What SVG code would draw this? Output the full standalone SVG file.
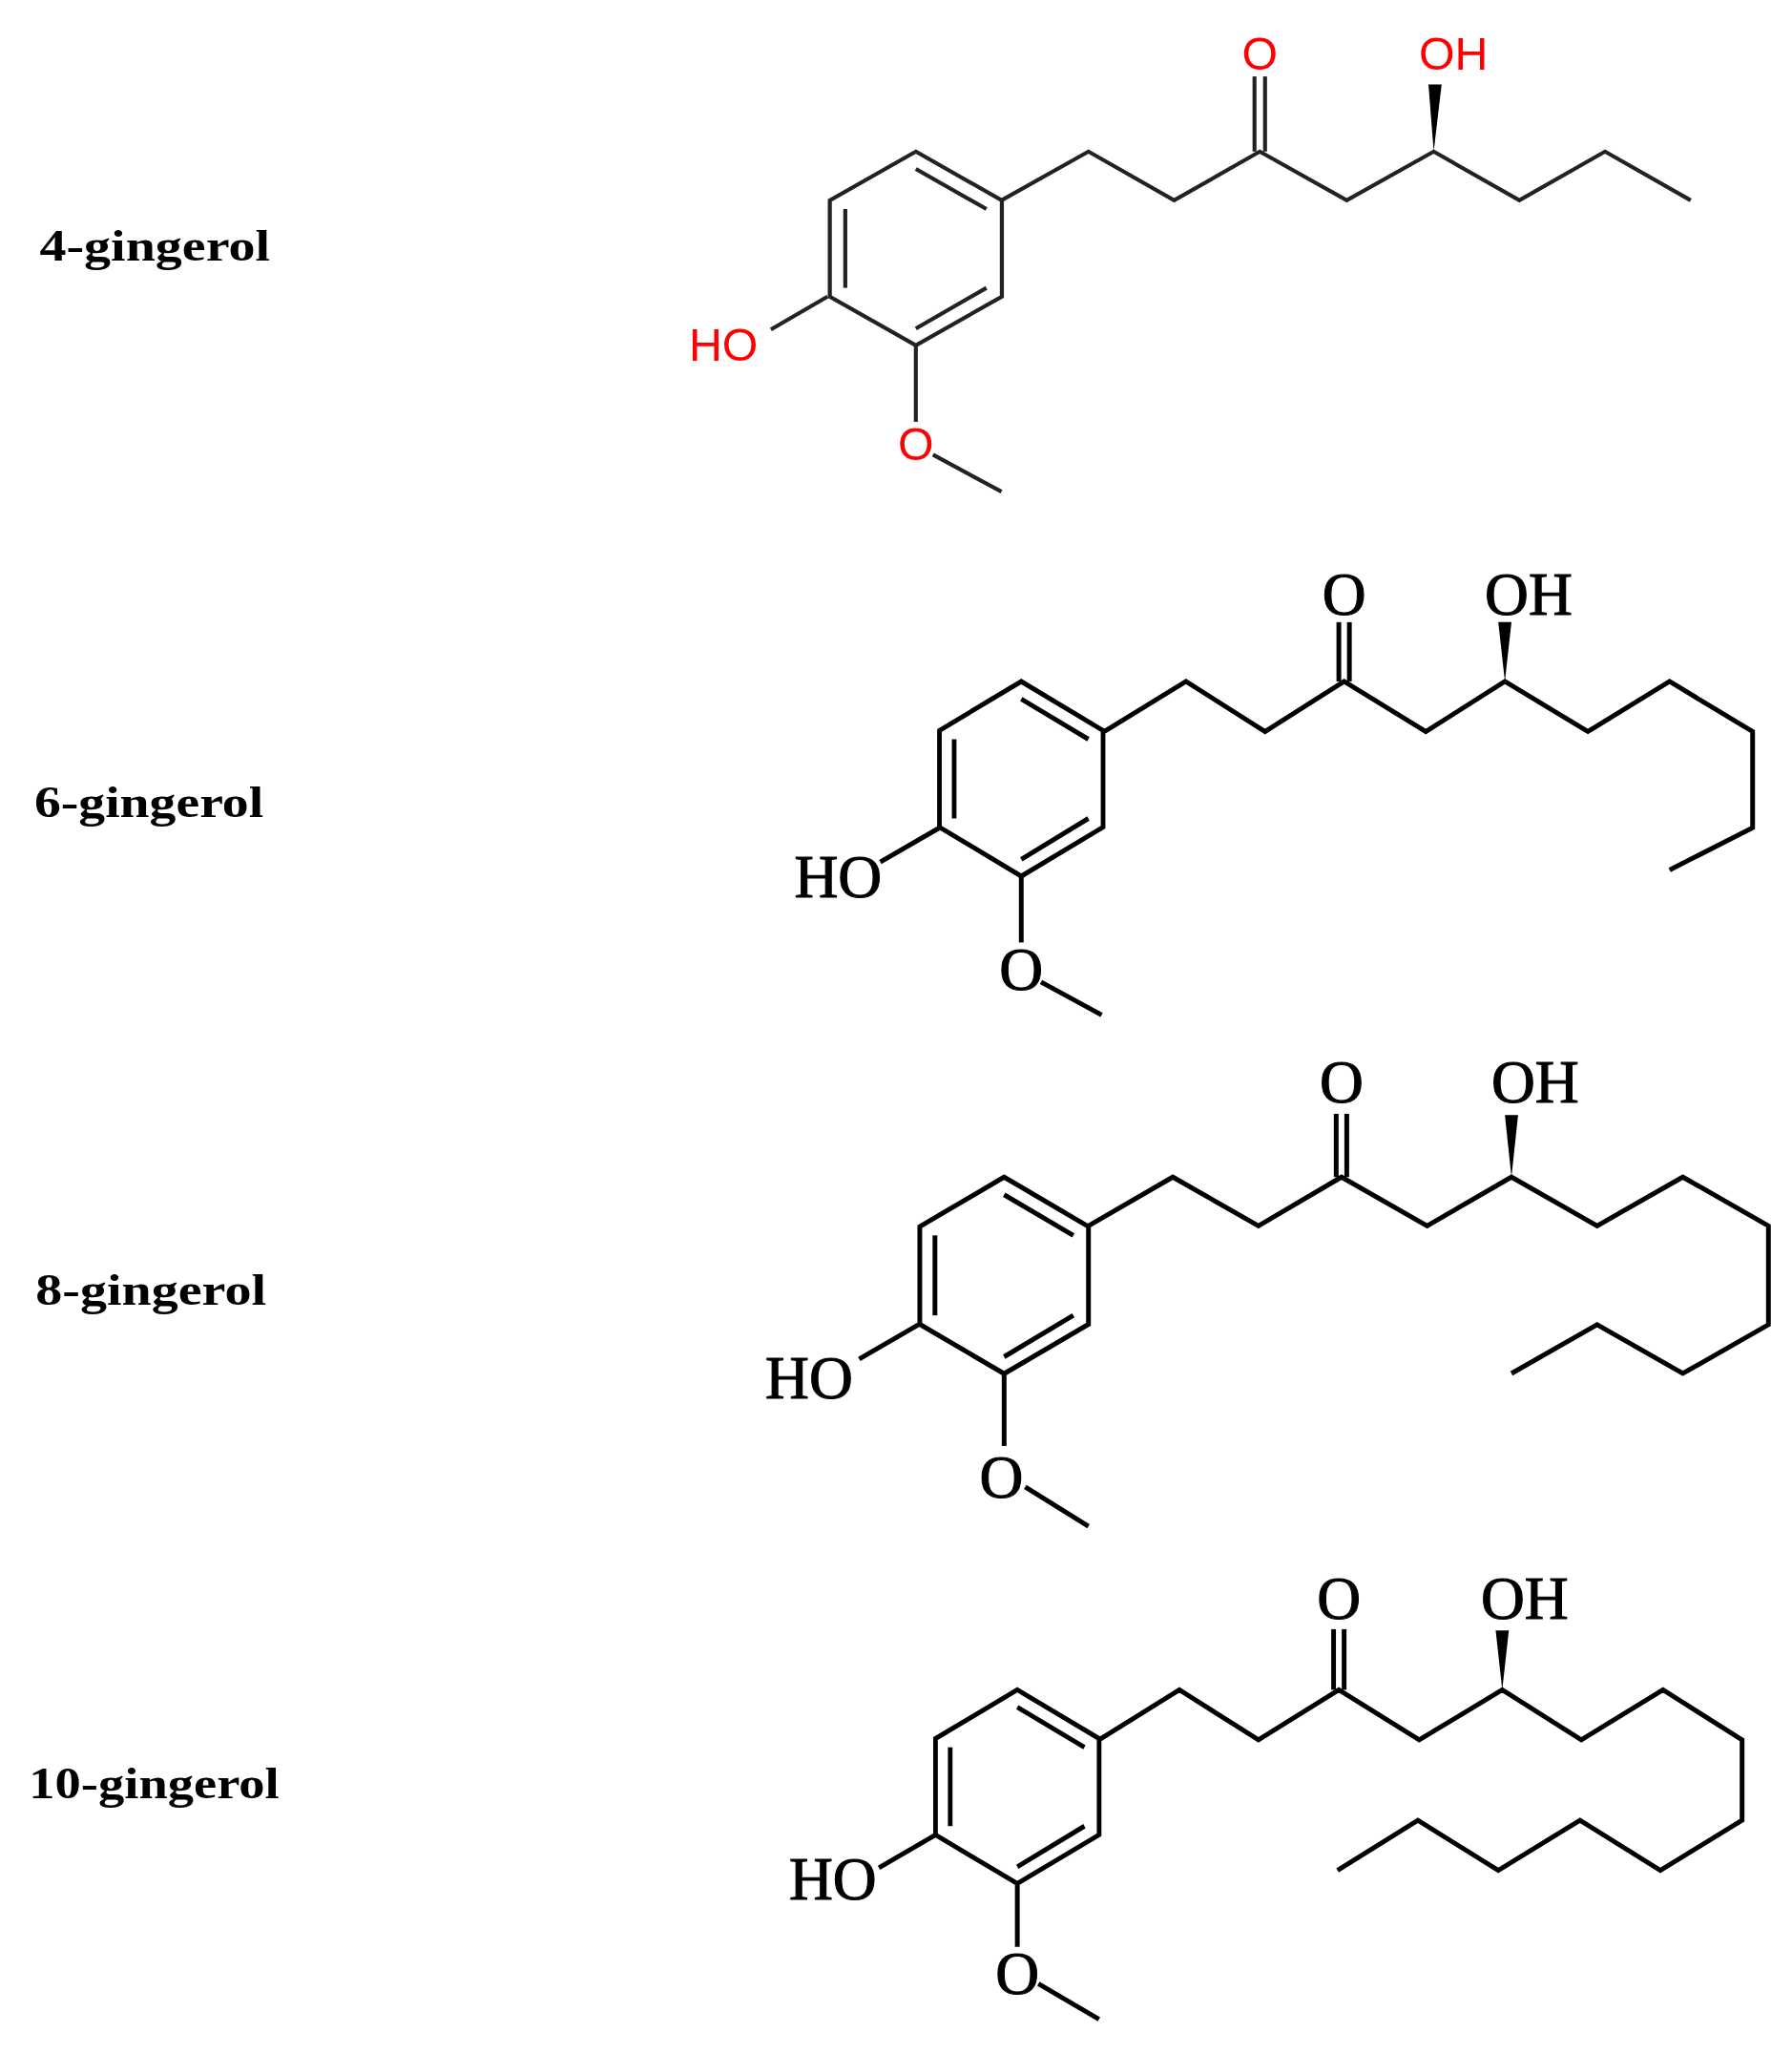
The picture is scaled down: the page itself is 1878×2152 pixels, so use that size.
<svg xmlns="http://www.w3.org/2000/svg" width="1878" height="2152" viewBox="0 0 1878 2152">
<style>
.b{fill:none;stroke:#000;stroke-width:3.6;stroke-linejoin:miter;stroke-linecap:butt}
.b1{fill:none;stroke:#222;stroke-width:3;stroke-linejoin:miter}
.name{font-family:"Liberation Serif",serif;font-weight:bold;font-size:33px;fill:#000}
.lr{font-family:"Liberation Sans",Arial,sans-serif;font-size:35px;fill:#f00}
.lk{font-family:"Liberation Serif",serif;font-size:46px;fill:#000;stroke:#000;stroke-width:0.8}
</style>
<defs>
<g id="ring">
<polygon points="0,0 64,37 64,110 0,147 -64,110 -64,37"/>
<line x1="0" y1="13.2" x2="52.5" y2="43.6"/>
<line x1="52.5" y1="103.4" x2="0" y2="134.3"/>
<line x1="-52.5" y1="43.6" x2="-52.5" y2="103.4"/>
</g>
</defs>
<rect width="1878" height="2152" fill="#fff"/>
<g transform="scale(1.381)">
<g id="g4">
<text class="name" x="30" y="198" textLength="175" lengthAdjust="spacingAndGlyphs">4-gingerol</text>
<g class="b1"><use href="#ring" transform="translate(695,115) scale(1.02,1)"/>
<polyline points="760,152 826,115 891,152 956,115 1022,152 1088,115 1153,152 1218,115 1283,152"/>
<line x1="952" y1="115" x2="952" y2="58"/><line x1="960" y1="115" x2="960" y2="58"/>
<line x1="628" y1="225" x2="585" y2="250"/>
<line x1="695" y1="262" x2="695" y2="320"/>
<line x1="708" y1="345" x2="760" y2="373"/></g>
<polygon points="1088,115 1084,64 1094,64" fill="#000"/>
<text class="lr" x="956" y="53" text-anchor="middle">O</text>
<text class="lr" x="1103" y="53" text-anchor="middle">OH</text>
<text class="lr" x="549" y="274" text-anchor="middle">HO</text>
<text class="lr" x="695" y="349" text-anchor="middle">O</text>
</g>
<g id="g6">
<text class="name" x="26" y="620" textLength="174" lengthAdjust="spacingAndGlyphs">6-gingerol</text>
<g class="b"><use href="#ring" transform="translate(775,517) scale(0.97,1.005)"/>
<polyline points="838,555 900,517 960,555 1020,517 1082,555 1142,517 1205,555 1267,517 1330,555 1330,628 1267,660"/>
<line x1="1016" y1="517" x2="1016" y2="472"/><line x1="1024" y1="517" x2="1024" y2="472"/>
<line x1="713" y1="628" x2="668" y2="654"/>
<line x1="775" y1="665" x2="775" y2="715"/>
<line x1="790" y1="745" x2="836" y2="770"/></g>
<polygon points="1142,517 1137,472 1147,472" fill="#000"/>
<text class="lk" x="1020" y="466" text-anchor="middle">O</text>
<text class="lk" x="1160" y="466" text-anchor="middle">OH</text>
<text class="lk" x="636" y="681" text-anchor="middle">HO</text>
<text class="lk" x="775" y="751" text-anchor="middle">O</text>
</g>
<g id="g8">
<text class="name" x="27" y="990" textLength="175" lengthAdjust="spacingAndGlyphs">8-gingerol</text>
<g class="b"><use href="#ring" transform="translate(762,893) scale(1.0,1.015)"/>
<polyline points="826,930 890,893 955,930 1018,893 1083,930 1147,893 1212,930 1277,893 1342,930 1342,1005 1277,1042 1212,1005 1147,1042"/>
<line x1="1014" y1="893" x2="1014" y2="845"/><line x1="1022" y1="893" x2="1022" y2="845"/>
<line x1="697" y1="1005" x2="652" y2="1031"/>
<line x1="762" y1="1042" x2="762" y2="1097"/>
<line x1="778" y1="1128" x2="826" y2="1158"/></g>
<polygon points="1147,893 1142,846 1152,846" fill="#000"/>
<text class="lk" x="1018" y="836" text-anchor="middle">O</text>
<text class="lk" x="1165" y="836" text-anchor="middle">OH</text>
<text class="lk" x="614" y="1061" text-anchor="middle">HO</text>
<text class="lk" x="760" y="1136" text-anchor="middle">O</text>
</g>
<g id="g10">
<text class="name" x="22" y="1364" textLength="190" lengthAdjust="spacingAndGlyphs">10-gingerol</text>
<g class="b"><use href="#ring" transform="translate(772,1282) scale(0.97,1.0)"/>
<polyline points="834,1320 895,1282 955,1320 1016,1282 1077,1320 1140,1282 1200,1320 1262,1282 1322,1320 1322,1381 1260,1419 1199,1381 1137,1419 1076,1381 1015,1419"/>
<line x1="1012" y1="1282" x2="1012" y2="1236"/><line x1="1020" y1="1282" x2="1020" y2="1236"/>
<line x1="710" y1="1392" x2="667" y2="1417"/>
<line x1="772" y1="1430" x2="772" y2="1477"/>
<line x1="788" y1="1505" x2="834" y2="1532"/></g>
<polygon points="1140,1282 1135,1237 1145,1237" fill="#000"/>
<text class="lk" x="1016" y="1228" text-anchor="middle">O</text>
<text class="lk" x="1157" y="1228" text-anchor="middle">OH</text>
<text class="lk" x="632" y="1441" text-anchor="middle">HO</text>
<text class="lk" x="772" y="1513" text-anchor="middle">O</text>
</g>
</g>
</svg>
